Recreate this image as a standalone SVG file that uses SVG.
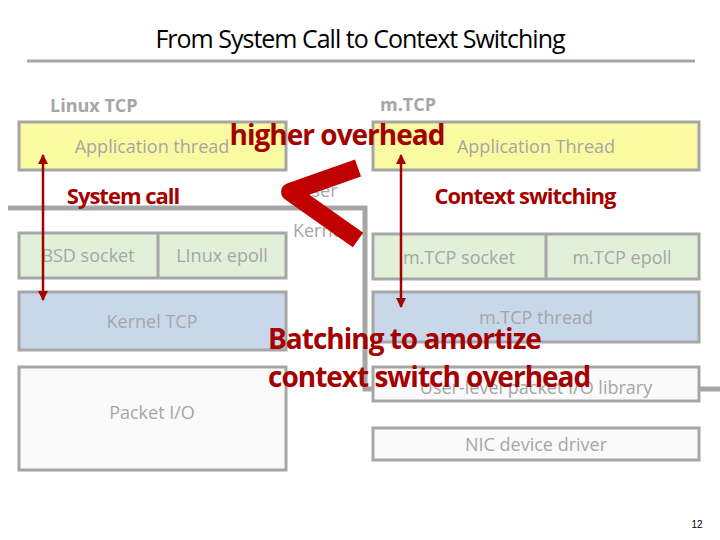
<svg xmlns="http://www.w3.org/2000/svg" width="720" height="540" viewBox="0 0 720 540">
<style>
.b{stroke:#a6a6a6;stroke-width:3}
.g{font-family:"Open Sans","Liberation Sans",sans-serif;fill:#a6a6a6;font-size:18px;text-anchor:middle}
.r{font-family:"Open Sans","Liberation Sans",sans-serif;font-weight:bold;fill:#a50000;letter-spacing:-1px}
</style>
<defs><marker id="a" viewBox="0 0 10 10" refX="9" refY="5" markerWidth="4" markerHeight="4" orient="auto-start-reverse"><path d="M0,0L10,5L0,10z" fill="#a50000"/></marker></defs>
<rect width="720" height="540" fill="#fff"/>
<text x="360" y="48" font-family="Open Sans,Liberation Sans,sans-serif" font-size="25" text-anchor="middle" fill="#000" letter-spacing="-1">From System Call to Context Switching</text>
<line x1="27" y1="61" x2="695" y2="61" stroke="#a6a6a6" stroke-width="3"/>
<text x="50" y="112" class="g" font-weight="bold" style="text-anchor:start">Linux TCP</text>
<text x="380" y="111" class="g" font-weight="bold" style="text-anchor:start">m.TCP</text>
<path d="M8,208H365V389H720" fill="none" stroke="#a6a6a6" stroke-width="5"/>
<g id="lapp"><rect x="19" y="122" width="267" height="48" fill="#fafaa0" class="b"/><text x="152" y="153" class="g">Application thread</text></g>
<g id="rapp"><rect x="373" y="122" width="326" height="48" fill="#fafaa0" class="b"/><text x="536" y="153" class="g">Application Thread</text></g>
<g id="lsock"><rect x="19" y="233" width="267" height="45" fill="#e2efd9" class="b"/><line x1="158" y1="233" x2="158" y2="278" class="b"/><text x="88" y="262" class="g">BSD socket</text><text x="222" y="262" class="g">LInux epoll</text></g>
<g id="rsock"><rect x="373" y="234" width="326" height="45" fill="#e2efd9" class="b"/><line x1="546" y1="234" x2="546" y2="279" class="b"/><text x="459" y="264" class="g">m.TCP socket</text><text x="622" y="264" class="g">m.TCP epoll</text></g>
<g id="ktcp"><rect x="19" y="292" width="267" height="58" fill="#c9d7ea" class="b"/><text x="152" y="328" class="g">Kernel TCP</text></g>
<g id="mthr"><rect x="373" y="292" width="326" height="50" fill="#c9d7ea" class="b"/><text x="536" y="324" class="g">m.TCP thread</text></g>
<g id="pio"><rect x="19" y="367" width="267" height="103" fill="#fafafa" class="b"/><text x="152" y="419" class="g">Packet I/O</text></g>
<g id="ulib"><rect x="373" y="367" width="326" height="34" fill="#fafafa" class="b"/><text x="536" y="394" class="g">User-level packet I/O library</text></g>
<g id="nic"><rect x="373" y="428" width="326" height="32" fill="#fafafa" class="b"/><text x="536" y="451" class="g">NIC device driver</text></g>
<text x="318" y="197" class="g">User</text>
<text x="320" y="237" class="g">Kernel</text>
<path d="M358,168L290,192L358,240" fill="none" stroke="#c00000" stroke-width="18" stroke-linejoin="round"/>
<g id="connectors" stroke="#a50000" stroke-width="2.5">
<line x1="43" y1="155" x2="43" y2="300" marker-start="url(#a)" marker-end="url(#a)"/>
<line x1="401" y1="155" x2="401" y2="307" marker-start="url(#a)" marker-end="url(#a)"/>
</g>
<text x="337" y="145" class="r" font-size="28" text-anchor="middle">higher overhead</text>
<text x="123" y="204" class="r" font-size="22" text-anchor="middle">System call</text>
<text x="525" y="204" class="r" font-size="22" text-anchor="middle">Context switching</text>
<text x="268" y="349" class="r" font-size="28">Batching to amortize</text>
<text x="268" y="387" class="r" font-size="28">context switch overhead</text>
<text x="697" y="528" font-family="Liberation Sans,sans-serif" font-size="10" text-anchor="middle">12</text>
</svg>
